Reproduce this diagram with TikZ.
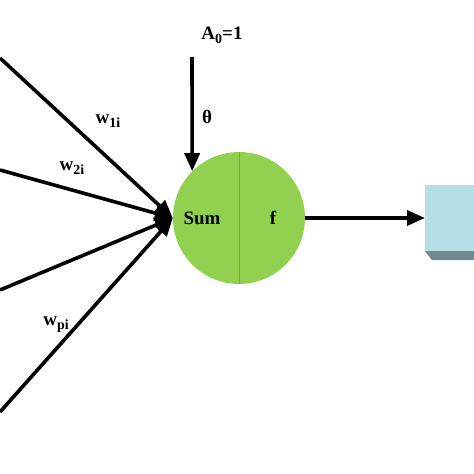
\documentclass[tikz,border=0pt]{standalone}
\usepackage{fontspec}
\setmainfont{Liberation Serif}
\usepackage{tikz}
\usetikzlibrary{arrows.meta, calc}

\definecolor{sumgreen}{HTML}{92D050}
\definecolor{splitblue}{HTML}{5B9BD5}
\definecolor{outblue}{HTML}{B4DFE6}
\definecolor{outshade}{HTML}{6F8B91}
\newcommand{\lowidx}[1]{\raisebox{-4pt}{\fontsize{14}{14}\selectfont #1}}

\begin{document}
\begin{tikzpicture} [x=1pt, y=-1pt,
	link/.style={line width=3.6pt, -{Triangle[length=18pt, width=15pt]}},
	lbl/.style={font=\bfseries\fontsize{19}{21}\selectfont, inner sep=0pt}]
	
	\useasboundingbox (0,0) rectangle (474,474);
	
	% neuron with sum and activation halves
	\node[circle, fill=sumgreen, minimum size=132pt, inner sep=0pt] (neuron) at (239,218) {};
	\draw[splitblue, line width=0.8pt] (neuron.north) -- (neuron.south);
	\node[lbl] (sum) at (202,218) {Sum};
	\node[lbl] (act) at (273,218) {f};
	
	% inputs
	\coordinate (in1) at (0,58);
	\coordinate (in2) at (0,170);
	\coordinate (in3) at (0,290);
	\coordinate (in4) at (0,412);
	\foreach \i in {1,...,4}
		\draw[link] (in\i) -- (neuron.west);
	\node[lbl] (w1) at (108,121) {w\lowidx{1i}};
	\node[lbl] (w2) at (72,168) {w\lowidx{2i}};
	\node[lbl] (wp) at (56,325) {w\lowidx{pi}};
	
	% bias
	\node[lbl] (bias) at (222,35) {A\lowidx{0}=1};
	\coordinate (btop) at (192,57);
	\draw[link] (btop) -- (neuron.135);
	\node[lbl] (theta) at (207,117) {θ};
	
	% output
	\node[fill=outblue, minimum width=70pt, minimum height=66pt, anchor=west, inner sep=0pt] (out) at (425,218) {};
	\fill[outshade] (out.south west) -- ++(7,9) -- ($(out.south east)+(0,9)$) -- (out.south east) -- cycle;
	\draw[link] (neuron.east) -- (out.west);
	
\end{tikzpicture}
\end{document}
